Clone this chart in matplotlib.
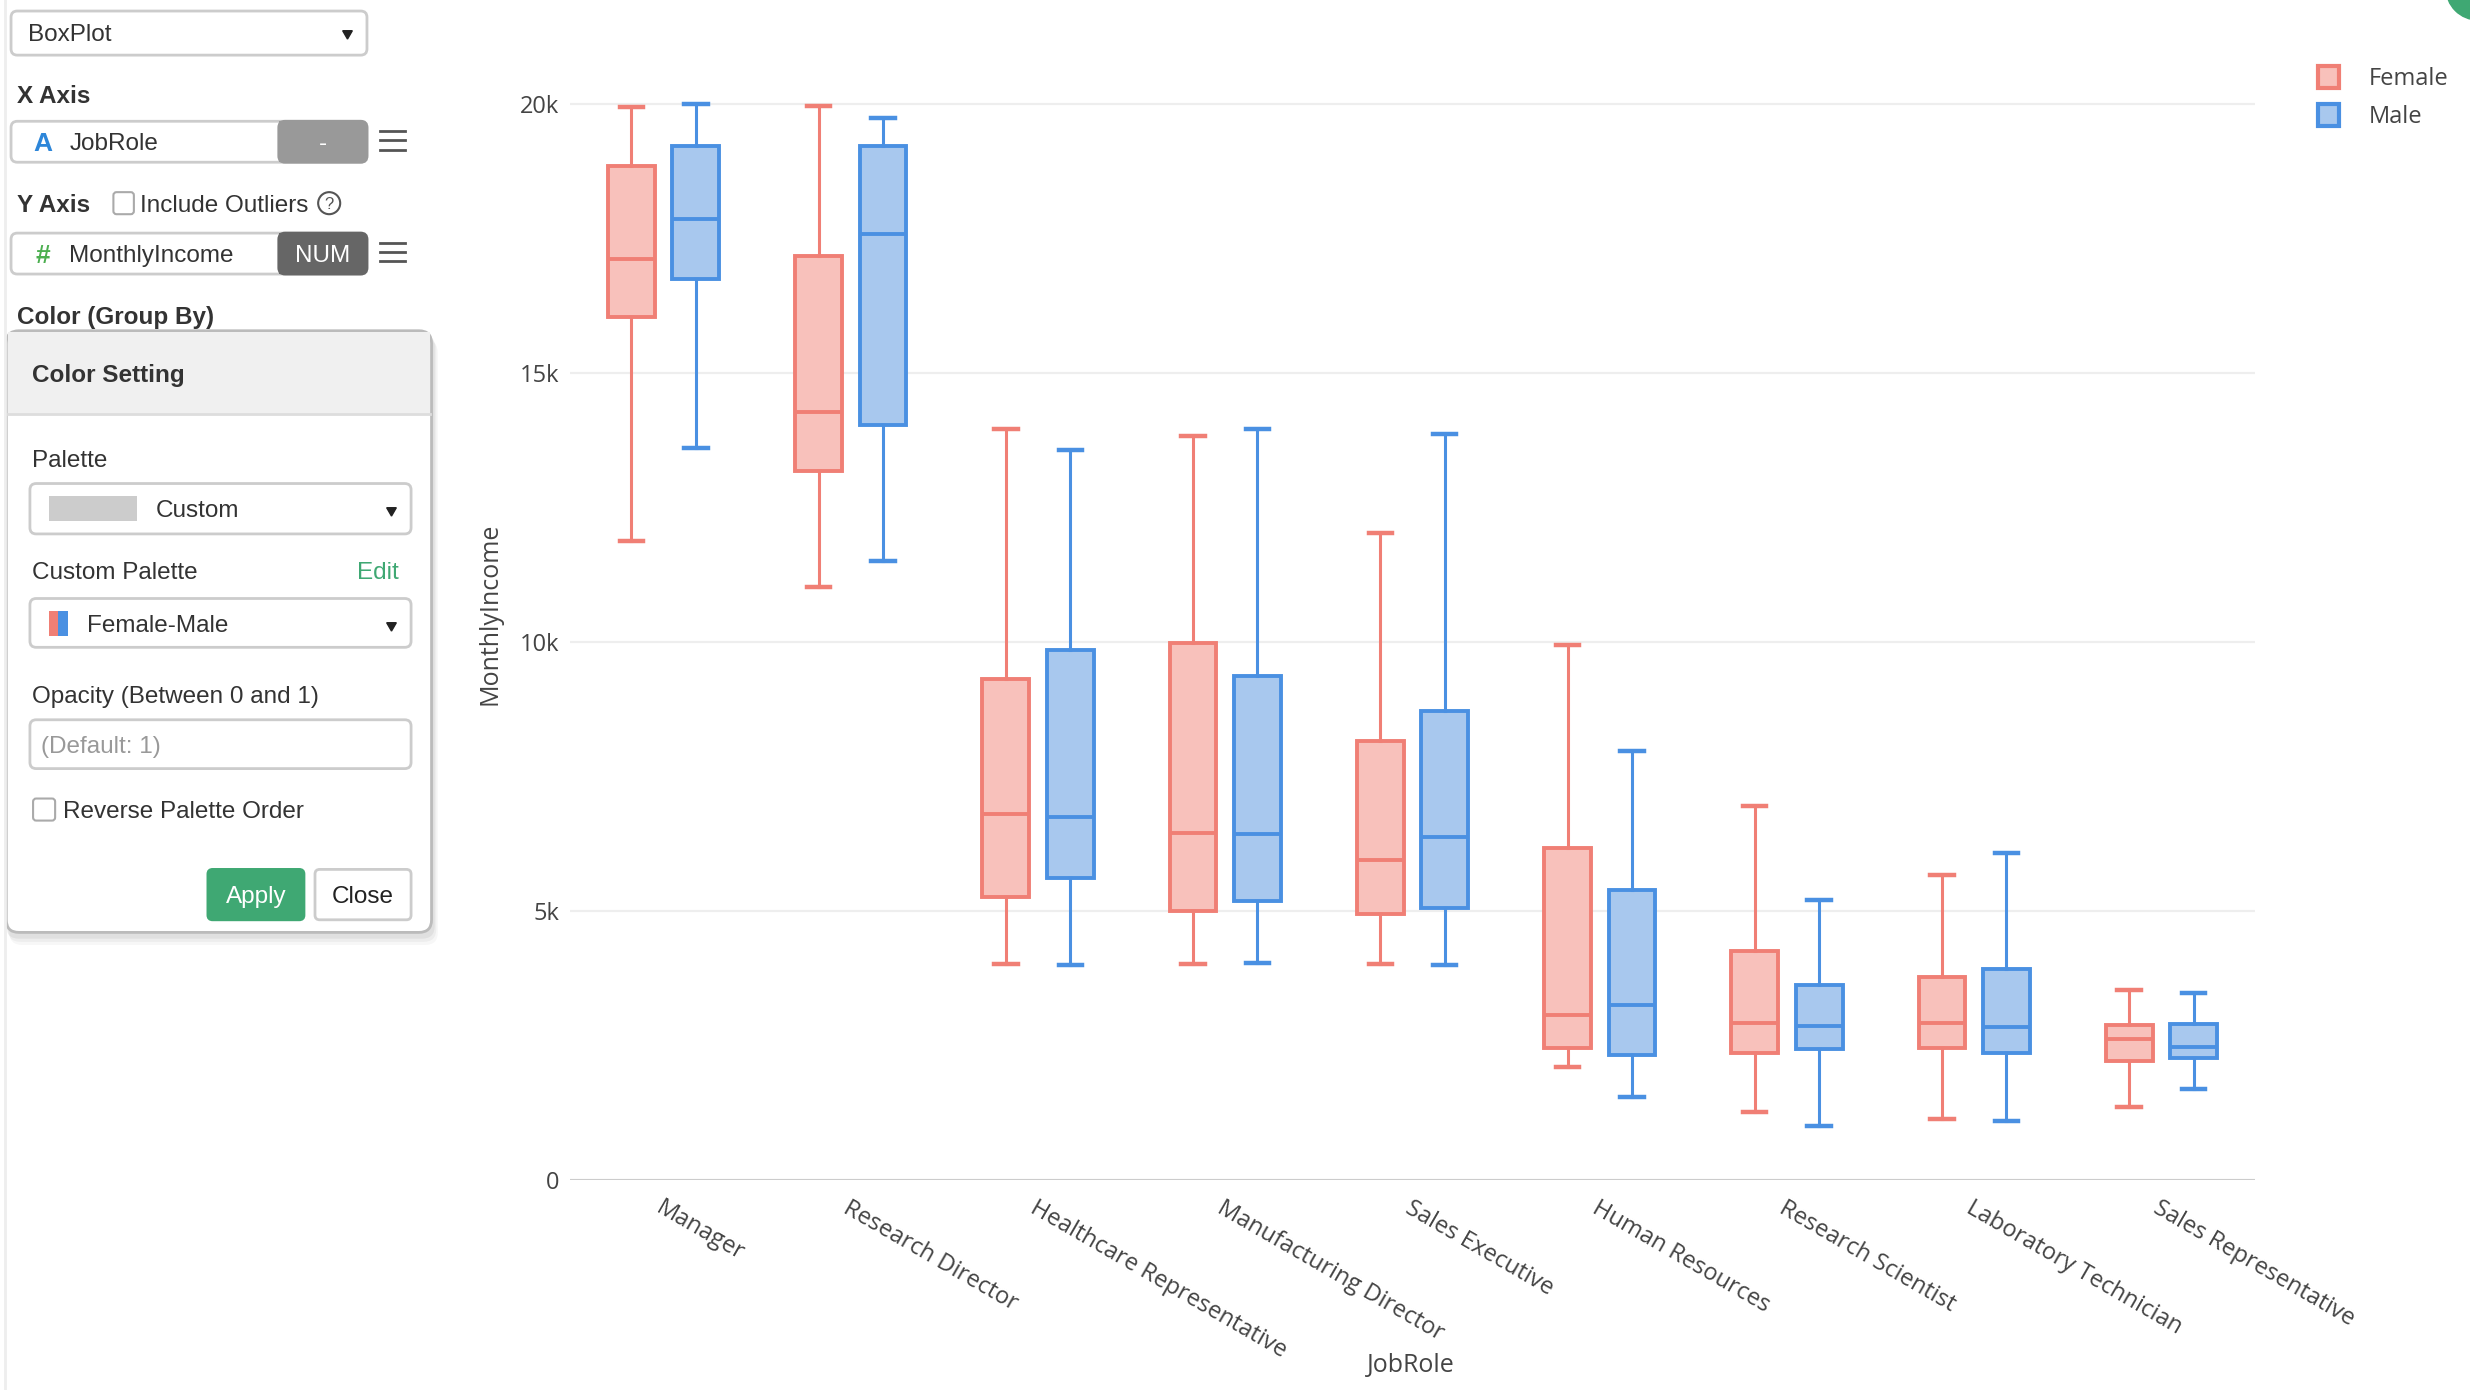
import numpy as np
import matplotlib.pyplot as plt
from matplotlib.patches import FancyBboxPatch, Rectangle, Circle

job_roles = ["Manager", "Research Director", "Healthcare Representative",
             "Manufacturing Director", "Sales Executive", "Human Resources",
             "Research Scientist", "Laboratory Technician", "Sales Representative"]

female_low = [11880, 11020, 4015, 4015, 4020, 2110, 1260, 1125, 1360]
female_q1 = [16040, 13190, 5270, 5010, 4950, 2455, 2365, 2450, 2210]
female_med = [17130, 14275, 6805, 6445, 5950, 3070, 2925, 2925, 2620]
female_q3 = [18845, 17180, 9320, 9990, 8155, 6180, 4260, 3770, 2875]
female_high = [19955, 19975, 13970, 13830, 12030, 9950, 6945, 5665, 3540]

male_low = [13605, 11500, 4000, 4030, 4000, 1550, 1010, 1100, 1685]
male_q1 = [16760, 14035, 5615, 5195, 5065, 2325, 2430, 2365, 2260]
male_med = [17865, 17590, 6755, 6430, 6380, 3260, 2855, 2840, 2470]
male_q3 = [19225, 19215, 9845, 9370, 8720, 5385, 3620, 3915, 2905]
male_high = [19999, 19745, 13575, 13965, 13870, 7970, 5205, 6075, 3480]

y_ticks = [0, 5000, 10000, 15000, 20000]
y_tick_labels = ["0", "5k", "10k", "15k", "20k"]

F_EDGE, F_FILL = "#F07F75", "#F8C1BB"
M_EDGE, M_FILL = "#4A90E2", "#A8C8EE"
TXT = "#444444"
CHART_FONT = ["Open Sans", "DejaVu Sans"]
UI_FONT = ["Liberation Sans", "DejaVu Sans"]

W, H = 2470, 1390
S = 1.575  # reference screenshot units -> pixels

fig = plt.figure(figsize=(W / 100, H / 100), dpi=100)

# ---------- chart ----------
ax = fig.add_axes([570 / W, 1 - 1180 / H, (2255 - 570) / W, (1180 - 72) / H])


def make_stats(low, q1, med, q3, high):
    return [dict(whislo=a, q1=b, med=c, q3=d, whishi=e, fliers=[])
            for a, b, c, d, e in zip(low, q1, med, q3, high)]


x = np.arange(len(job_roles))
for stats, off, edge, fill in [
        (make_stats(female_low, female_q1, female_med, female_q3, female_high), -0.172, F_EDGE, F_FILL),
        (make_stats(male_low, male_q1, male_med, male_q3, male_high), 0.172, M_EDGE, M_FILL)]:
    ax.bxp(stats, positions=x + off, widths=0.25, patch_artist=True,
           showfliers=False, manage_ticks=False,
           boxprops=dict(facecolor=fill, edgecolor=edge, linewidth=2.8),
           medianprops=dict(color=edge, linewidth=2.8),
           whiskerprops=dict(color=edge, linewidth=2.2),
           capprops=dict(color=edge, linewidth=3.2),
           capwidths=0.125, zorder=3)

ax.set_xlim(-0.5, len(job_roles) - 0.5)
ax.set_ylim(0, 20600)
ax.set_yticks(y_ticks)
ax.set_yticklabels(y_tick_labels)
ax.set_xticks(x)
ax.set_xticklabels(job_roles, rotation=-30, ha="left", va="top", rotation_mode="anchor")
for s in ax.spines.values():
    s.set_visible(False)
ax.tick_params(length=0, labelsize=17, colors=TXT, pad=8)
ax.tick_params(axis="x", pad=12)
for lab in ax.get_xticklabels() + ax.get_yticklabels():
    lab.set_family(CHART_FONT)
ax.grid(axis="y", color="#eeeeee", linewidth=1.6, zorder=0)
ax.axhline(0, color="#cccccc", linewidth=2.2, zorder=1)
ax.set_axisbelow(True)

fig.text(896 * S / W, 1 - 867 * S / H, "JobRole", ha="center", va="center",
         fontsize=18, color=TXT, family=CHART_FONT)
fig.text(311 * S / W, 1 - 390 * S / H, "MonthlyIncome", ha="center", va="center",
         rotation=90, fontsize=18, color=TXT, family=CHART_FONT)

# overlay in pixel coordinates for legend and side panel
ov = fig.add_axes([0, 0, 1, 1], zorder=-1)
ov.set_xlim(0, W)
ov.set_ylim(H, 0)
ov.axis("off")

for yy, lab, edge, fill in [(49, "Female", F_EDGE, F_FILL), (73, "Male", M_EDGE, M_FILL)]:
    ov.add_patch(Rectangle((1472 * S, (yy - 7) * S), 13 * S, 14 * S,
                           facecolor=fill, edgecolor=edge, linewidth=3))
    ov.text(1504 * S, (yy + 1) * S, lab, ha="left", va="center", fontsize=17,
            color=TXT, family=CHART_FONT)

ov.add_patch(Circle((2478, -12), 32, color="#3FA873", clip_on=True))

# ---------- side panel ----------


def box(x0, y0, x1, y1, fc="white", ec="#cccccc", lw=2, r=4, **kw):
    ov.add_patch(FancyBboxPatch((x0 * S, y0 * S), (x1 - x0) * S, (y1 - y0) * S,
                                boxstyle=f"round,pad=0,rounding_size={r * S}",
                                facecolor=fc, edgecolor=ec, linewidth=lw, **kw))


def txt(x0, y0, s, size=17.5, color="#333333", weight="normal", ha="left"):
    ov.text(x0 * S, (y0 + 1.5) * S, s, ha=ha, va="center", fontsize=size, color=color,
            weight=weight, family=UI_FONT)


def caret(x0, y0):
    ov.plot([x0 * S], [y0 * S], marker=(3, 0, 180), markersize=8, color="#222222")


def burger(x0, y0):
    for dy in (-6, 0, 6):
        ov.plot([(x0 - 8) * S, (x0 + 8) * S], [(y0 + dy) * S] * 2, color="#555555", lw=2)


ov.plot([3 * S, 3 * S], [0, H], color="#eeeeee", lw=2)

box(7, 7, 233, 35)
txt(18, 21, "BoxPlot")
caret(220, 21)

txt(11, 60, "X Axis", weight="bold")
box(7, 77, 233, 103)
box(177, 77, 233, 103, fc="#999999", ec="#999999")
ov.add_patch(Rectangle((177 * S, 77 * S), 6 * S, 26 * S, facecolor="#999999", edgecolor="none"))
txt(205, 90, "-", color="white", ha="center")
txt(27, 90, "A", color="#2D86D9", weight="bold", ha="center", size=19)
txt(44, 90, "JobRole")
burger(249, 89)

txt(11, 129, "Y Axis", weight="bold")
box(72, 122, 85, 136, ec="#aaaaaa", lw=1.5, r=2)
txt(89, 129, "Include Outliers")
ov.add_patch(Circle((209 * S, 129 * S), 7 * S, facecolor="white", edgecolor="#555555", lw=1.5))
txt(209, 128.5, "?", size=12, color="#555555", ha="center")

box(7, 148, 233, 174)
box(177, 148, 233, 174, fc="#666666", ec="#666666")
ov.add_patch(Rectangle((177 * S, 148 * S), 6 * S, 26 * S, facecolor="#666666", edgecolor="none"))
txt(205, 161, "NUM", color="white", ha="center")
txt(27, 161, "#", color="#4CAF50", weight="bold", ha="center", size=19)
txt(44, 161, "MonthlyIncome")
burger(249, 160)

txt(11, 200, "Color (Group By)", weight="bold")

# popup shadow + body
for i, a in enumerate([0.05, 0.04, 0.03]):
    box(4 + i, 212 + 2 * i, 276 + i, 596 + 2 * i, fc="black", ec="none", lw=0, r=8, alpha=a)
box(4, 210, 274, 592, fc="white", ec="#bbbbbb", lw=2, r=8)
ov.add_patch(Rectangle((5 * S, 211 * S), 268 * S, 52 * S, facecolor="#f0f0f0", edgecolor="none"))
ov.plot([5 * S, 273 * S], [263 * S, 263 * S], color="#dddddd", lw=2)
txt(20, 237, "Color Setting", weight="bold")

txt(20, 291, "Palette")
box(19, 307, 261, 339)
ov.add_patch(Rectangle((31 * S, 315 * S), 56 * S, 16 * S, facecolor="#cccccc", edgecolor="none"))
txt(99, 323, "Custom")
caret(248, 324)

txt(20, 362, "Custom Palette")
txt(253, 362, "Edit", color="#3FA873", ha="right")
box(19, 380, 261, 411)
ov.add_patch(Rectangle((31 * S, 388 * S), 6 * S, 16 * S, facecolor=F_EDGE, edgecolor="none"))
ov.add_patch(Rectangle((37 * S, 388 * S), 6 * S, 16 * S, facecolor=M_EDGE, edgecolor="none"))
txt(55, 396, "Female-Male")
caret(248, 397)

txt(20, 441, "Opacity (Between 0 and 1)")
box(19, 457, 261, 488)
txt(26, 473, "(Default: 1)", color="#999999")

box(21, 507, 35, 521, ec="#aaaaaa", lw=1.5, r=2)
txt(40, 514, "Reverse Palette Order")

box(132, 552, 193, 584, fc="#3FA873", ec="#3FA873", r=3)
txt(162.5, 568, "Apply", color="white", ha="center")
box(200, 552, 261, 584, ec="#cccccc", r=3)
txt(230.5, 568, "Close", color="#222222", ha="center")

fig.savefig("out.png", dpi=100, facecolor="white")
